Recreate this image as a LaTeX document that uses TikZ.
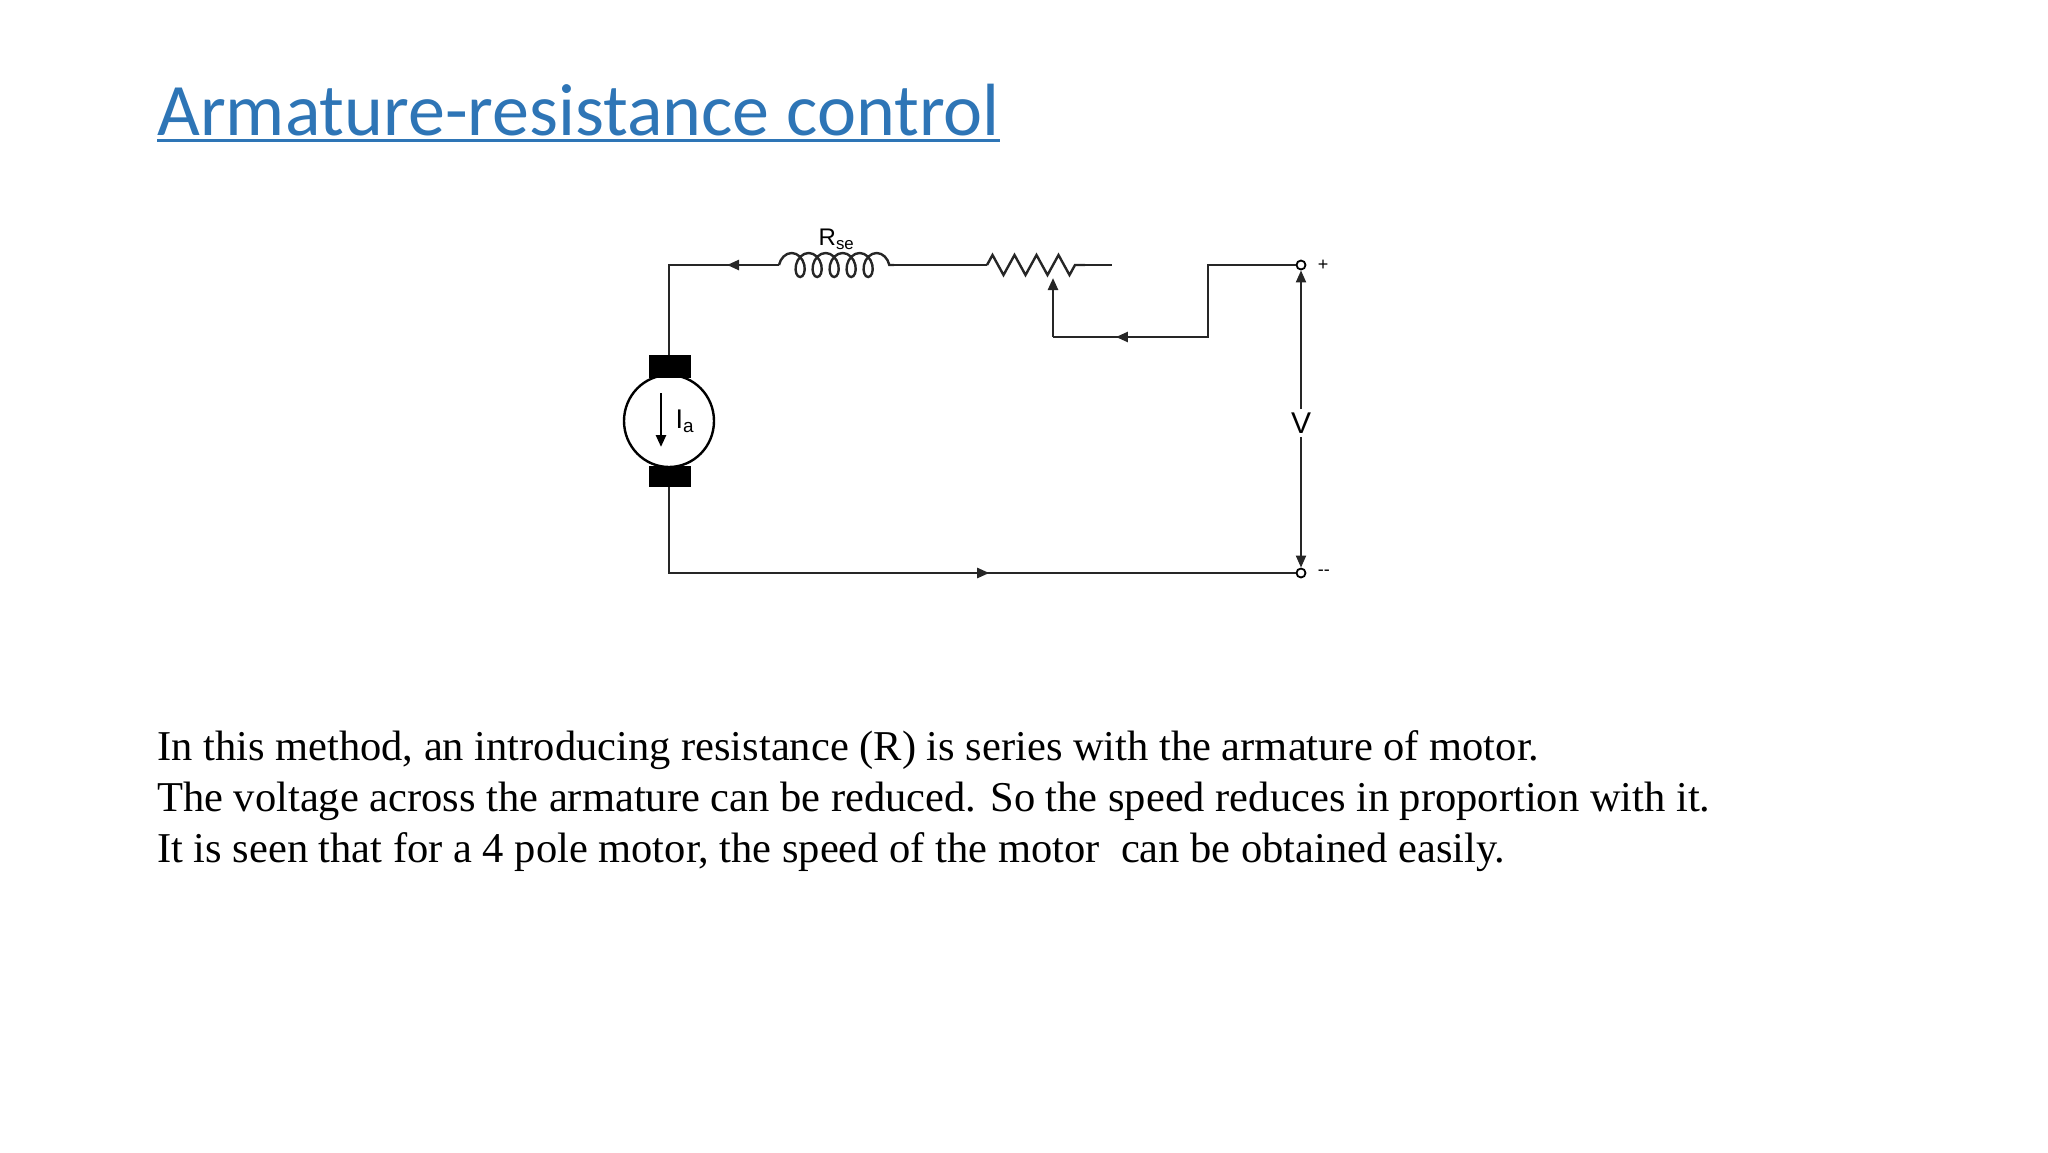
\documentclass[tikz,border=0pt]{standalone}
\usepackage{fontspec}
\setmainfont{Liberation Serif}
\newfontfamily\titlefont{Carlito}
\newfontfamily\labelfont{Liberation Sans}
\usetikzlibrary{arrows.meta,positioning,calc,shapes.geometric,decorations.pathmorphing,decorations.markings}
\definecolor{titleblue}{HTML}{2E75B6}

\tikzset{
  wire/.style={line width=2.4pt, black!85},
  flow/.style={postaction={decorate},decoration={markings,
      mark=at position #1 with {\arrow{Triangle[length=12pt,width=10pt]}}}},
  terminal/.style={circle, draw, line width=1.8pt, fill=white, inner sep=0pt, minimum size=9pt},
  lbl/.style={font=\labelfont\fontsize{24}{26}\selectfont},
}

\begin{document}
\begin{tikzpicture}[x=1pt,y=-1pt]
  \useasboundingbox (0,0) rectangle (2048,1152);

    % title
    \node[anchor=base west, inner sep=0pt, text=titleblue,
          font=\titlefont\fontsize{74}{80}\selectfont] (title) at (157,135) {Armature-resistance control};
    \draw[titleblue, line width=2.8pt] ([yshift=-5pt]title.south west) -- ([yshift=-5pt]title.south east);

    % motor
    \node[draw, ellipse, line width=2.4pt, minimum width=90pt, minimum height=92pt, inner sep=0pt] (motor) at (669,421) {};
    \fill (649,355) rectangle (691,378);
    \fill (649,466) rectangle (691,487);
    \coordinate (m_top) at (669,355);
    \coordinate (m_bot) at (669,487);
    \draw[line width=2.6pt, -{Triangle[length=12pt,width=10pt]}] (661,393) -- (661,447);
    \node[lbl, anchor=west, font=\labelfont\fontsize{27}{28}\selectfont] (ia) at (672,421) {I\textsubscript{a}};

    % corners and terminals
    \coordinate (top_left) at (669,265);
    \coordinate (bot_left) at (669,573);
    \coordinate (coil_l) at (779,265);
    \coordinate (coil_r) at (894,265);
    \coordinate (res_l) at (987,265);
    \coordinate (res_r) at (1085,265);
    \coordinate (res_end) at (1112,265);
    \coordinate (slider) at (1053,278);
    \coordinate (slider_low) at (1053,337);
    \coordinate (step_low) at (1208,337);
    \coordinate (step_top) at (1208,265);
    \node[terminal] (t_plus) at (1301,265) {};
    \node[terminal] (t_minus) at (1301,573) {};
    \node[lbl, right=8pt of t_plus, font=\labelfont\fontsize{18}{20}\selectfont] {+};
    \node[lbl, right=8pt of t_minus, font=\labelfont\fontsize{18}{20}\selectfont] {--};

    % series field and rheostat
    \draw[wire, flow=0.26] (coil_l) -- (top_left) -- (m_top);
    \draw[wire, decorate, decoration={coil, aspect=0.7, segment length=17pt, amplitude=12pt}] (coil_l) -- (coil_r);
    \node[lbl, above=12pt of $(coil_l)!0.5!(coil_r)$] (rse) {R\textsubscript{se}};
    \draw[wire] (coil_r) -- (res_l);
    \draw[wire, decorate, decoration={zigzag, segment length=22pt, amplitude=10pt}] (res_l) -- (res_r);
    \draw[wire] (res_r) -- (res_end);
    \draw[wire, flow=0.8] (t_plus) -- (step_top) -- (step_low) -- (slider_low);
    \draw[wire, -{Triangle[length=12pt,width=10pt]}] (slider_low) -- (slider);

    % return
    \draw[wire, flow=0.57] (m_bot) -- (bot_left) -- (t_minus);

    % voltage
    \node[lbl, font=\labelfont\fontsize{30}{32}\selectfont] (v) at (1301,423) {V};
    \draw[wire, line width=2pt, -{Triangle[length=12pt,width=10pt]}] (v) -- (t_plus);
    \draw[wire, line width=2pt, -{Triangle[length=12pt,width=10pt]}] (v) -- (t_minus);

    % text
    \node[anchor=base west, inner sep=0pt, align=left, font=\fontsize{42.5}{51}\selectfont] (body) at (157,862)
      {In this method, an introducing resistance (R) is series with the armature of motor.\\
       The voltage across the armature can be reduced. So the speed reduces in proportion with it.\\
       It is seen that for a 4 pole motor, the speed of the motor\ \ can be obtained easily.};
\end{tikzpicture}
\end{document}
